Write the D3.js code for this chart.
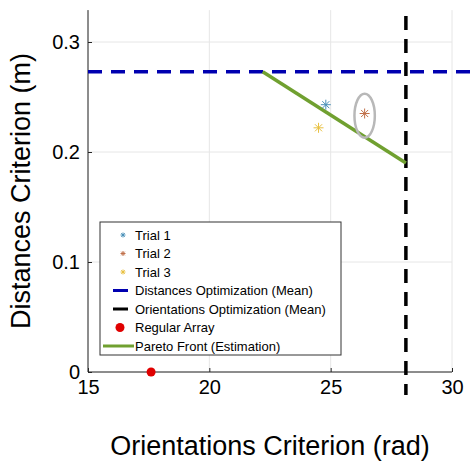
<!DOCTYPE html>
<html lang="en">
<head>
<meta charset="UTF-8">
<script src="https://d3js.org/d3.v7.min.js"></script>
<style>
  body { margin: 0; background: #fff; font-family: Arial, "Liberation Sans", sans-serif; }
  .grid line { stroke: #e6e6e6; }
  .axis text { font-size: 20px; fill: #000; }
  .axis path, .axis line { stroke: #262626; }
</style>
</head>
<body>
<svg width="474" height="472"></svg>
<script>
const xTicks = [15, 20, 25, 30];
const yTicks = [0, 0.1, 0.2, 0.3];
const trials = [
  { name: "Trial 1", x: 24.8, y: 0.243, color: "#4a90b8" },
  { name: "Trial 2", x: 26.4, y: 0.235, color: "#c0704a" },
  { name: "Trial 3", x: 24.5, y: 0.222, color: "#e8c040" }
];
const distMean = 0.273;
const orientMean = 28.1;
const pareto = [[22.2, 0.273], [28.1, 0.19]];
const regular = [17.6, 0];
const ellipse = { cx: 26.4, cy: 0.233, rx: 0.42, ry: 0.02 };

const svg = d3.select("svg");
const x = d3.scaleLinear().domain([15, 30]).range([88, 452]);
const y = d3.scaleLinear().domain([0, 0.3]).range([372, 42]);
const yTop = y(0.329);

// grid
const g = svg.append("g").attr("class", "grid");
g.selectAll(".gx").data(xTicks).join("line")
  .attr("x1", d => x(d)).attr("x2", d => x(d)).attr("y1", yTop).attr("y2", 372);
g.selectAll(".gy").data(yTicks).join("line")
  .attr("x1", 88).attr("x2", 452).attr("y1", d => y(d)).attr("y2", d => y(d));

svg.append("g").attr("class", "axis").attr("transform", "translate(0,372)")
  .call(d3.axisBottom(x).tickValues(xTicks).tickSize(-4).tickPadding(8).tickFormat(d3.format("d")))
  .call(a => a.select(".domain").attr("d", `M88,0H452`));
svg.append("g").attr("class", "axis").attr("transform", "translate(88,0)")
  .call(d3.axisLeft(y).tickValues(yTicks).tickSize(-4).tickPadding(8).tickFormat(d => d === 0 ? "0" : d3.format(".1f")(d)))
  .call(a => a.select(".domain").attr("d", `M0,${yTop}V372`));

svg.append("text").attr("x", 270).attr("y", 455).attr("text-anchor", "middle")
  .attr("font-size", 27).text("Orientations Criterion (rad)");
svg.append("text").attr("transform", `translate(30,${(yTop + 372) / 2}) rotate(-90)`)
  .attr("text-anchor", "middle").attr("font-size", 27).text("Distances Criterion (m)");

// lines
svg.append("line").attr("x1", 88).attr("x2", 470).attr("y1", y(distMean)).attr("y2", y(distMean))
  .attr("stroke", "#0000b0").attr("stroke-width", 3.5).attr("stroke-dasharray", "14,9");
svg.append("line").attr("x1", x(orientMean)).attr("x2", x(orientMean)).attr("y1", 16).attr("y2", 395)
  .attr("stroke", "#000").attr("stroke-width", 3.5).attr("stroke-dasharray", "14,9");
svg.append("path").attr("d", d3.line().x(d => x(d[0])).y(d => y(d[1]))(pareto))
  .attr("stroke", "#70a030").attr("stroke-width", 3.5).attr("fill", "none");

svg.append("ellipse").attr("cx", x(ellipse.cx)).attr("cy", y(ellipse.cy))
  .attr("rx", x(ellipse.cx + ellipse.rx) - x(ellipse.cx)).attr("ry", y(0) - y(ellipse.ry))
  .attr("fill", "none").attr("stroke", "#b8b8b8").attr("stroke-width", 2.5);

function star(sel, cx, cy, r, color) {
  const gg = sel.append("g").attr("transform", `translate(${cx},${cy})`)
    .attr("stroke", color).attr("stroke-width", 1);
  [0, 45, 90, 135].forEach(a => {
    const t = a * Math.PI / 180;
    gg.append("line").attr("x1", -r * Math.cos(t)).attr("y1", -r * Math.sin(t))
      .attr("x2", r * Math.cos(t)).attr("y2", r * Math.sin(t));
  });
}
trials.forEach(t => star(svg, x(t.x), y(t.y), 5, t.color));
svg.append("circle").attr("cx", x(regular[0])).attr("cy", y(regular[1])).attr("r", 4.5).attr("fill", "#e00000");

// legend
const lg = svg.append("g").attr("transform", "translate(100,222)");
lg.append("rect").attr("width", 241).attr("height", 133).attr("fill", "#fff").attr("stroke", "#333");
const items = [
  ...trials.map(t => ({ label: t.name, type: "star", color: t.color })),
  { label: "Distances Optimization (Mean)", type: "line", color: "#0000b0" },
  { label: "Orientations Optimization (Mean)", type: "line", color: "#000" },
  { label: "Regular Array", type: "dot", color: "#e00000" },
  { label: "Pareto Front (Estimation)", type: "long", color: "#70a030" }
];
items.forEach((it, i) => {
  const cy = 13 + i * 18.5;
  if (it.type === "star") star(lg, 23, cy, 2.5, it.color);
  if (it.type === "line") lg.append("line").attr("x1", 13).attr("x2", 28).attr("y1", cy).attr("y2", cy)
    .attr("stroke", it.color).attr("stroke-width", 3);
  if (it.type === "dot") lg.append("circle").attr("cx", 20).attr("cy", cy).attr("r", 4.5).attr("fill", it.color);
  if (it.type === "long") lg.append("line").attr("x1", 3).attr("x2", 34).attr("y1", cy).attr("y2", cy)
    .attr("stroke", it.color).attr("stroke-width", 3);
  lg.append("text").attr("x", 35).attr("y", cy + 4.5).attr("font-size", 13).text(it.label);
});
</script>
</body>
</html>
